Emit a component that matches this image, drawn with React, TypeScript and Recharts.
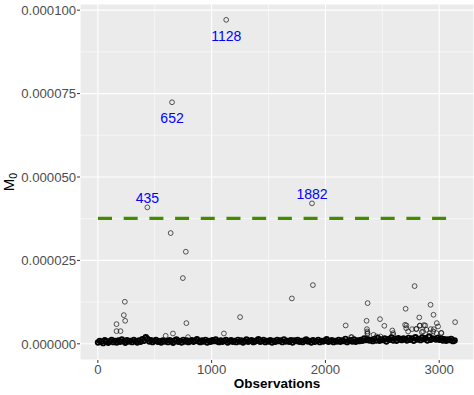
import { ScatterChart, Scatter, XAxis, YAxis, CartesianGrid, ReferenceLine } from "recharts"

// flagged observations (labelled in blue)
const flaggedObs = [435, 652, 1128, 1882]
const flaggedM0 = [4.09e-5, 7.24e-5, 9.71e-5, 4.21e-5]
const flaggedAbove = [true, false, false, true]

// other visible points off the baseline, M0 in units of 1e-6
const otherObs = [
  164, 164, 199, 228, 237, 240, 427, 596, 640, 660, 747, 773, 778, 792, 1108, 1250,
  1705, 1890, 2178, 2225, 2232, 2362, 2365, 2368, 2370, 2370, 2371, 2423, 2449, 2480,
  2484, 2518, 2588, 2595, 2595, 2700, 2705, 2710, 2712, 2727, 2762, 2784, 2798, 2800,
  2825, 2830, 2830, 2847, 2859, 2865, 2877, 2888, 2918, 2924, 2926, 2947, 2950, 2953,
  2976, 2979, 2990, 3017, 3020, 3099, 3140,
]
const otherM0 = [
  5.9, 3.8, 3.8, 8.6, 12.6, 6.9, 2.0, 2.4, 33.2, 3.1, 19.7, 27.6, 6.2, 2.0, 3.1, 8.0,
  13.6, 17.6, 5.5, 2.0, 2.0, 6.9, 4.4, 3.7, 3.0, 3.2, 12.2, 2.7, 2.2, 7.4,
  2.2, 5.4, 4.0, 3.2, 2.7, 5.7, 10.5, 4.7, 5.5, 3.7, 4.4, 17.3, 4.4, 4.5,
  7.9, 5.4, 5.5, 3.5, 3.7, 5.6, 5.5, 4.2, 3.2, 11.7, 4.4, 3.7, 8.7, 4.4,
  3.2, 6.2, 5.2, 3.3, 3.2, 1.5, 6.5,
]

// dense band near zero: every 15th observation from 1, M0 in units of 1e-7
const baselineStep = 15
const baselineM0 = [
  4, 9, 6, 2, 11, 7, 3, 8, 12, 5, 9, 4, 10, 6, 13, 8, 3, 11, 7, 9,
  5, 12, 8, 4, 10, 6, 14, 9, 20, 15, 7, 11, 5, 9, 12, 6, 8, 4, 10, 7,
  9, 5, 11, 8, 3, 10, 13, 6, 9, 4, 12, 7, 10, 5, 8, 11, 6, 9, 14, 7,
  5, 10, 7, 12, 4, 9, 6, 11, 8, 13, 7, 5, 10, 6, 9, 12, 4, 8, 11, 6,
  9, 5, 12, 7, 10, 4, 8, 13, 6, 9, 11, 5, 7, 10, 14, 6, 8, 12, 5, 9,
  7, 11, 4, 9, 6, 12, 8, 10, 5, 13, 7, 9, 6, 11, 4, 10, 8, 12, 6, 9,
  5, 10, 13, 7, 9, 4, 11, 6, 8, 12, 5, 9, 7, 10, 14, 6, 8, 11, 5, 9,
  7, 12, 6, 10, 8, 15, 5, 9, 11, 7, 13, 6, 10, 8, 12, 9, 16, 11, 14, 10,
  12, 8, 15, 10, 18, 9, 13, 11, 16, 7, 14, 12, 19, 10, 15, 9, 17, 13, 11, 16,
  14, 10, 18, 12, 16, 9, 20, 13, 15, 11, 19, 14, 17, 10, 22, 12, 16, 15, 13, 18,
  12, 16, 10, 14, 9, 13, 11, 15, 8, 10,
]

const cutoff = 3.76e-5
const cutoffFrom = 1
const cutoffTo = 3150

const xTicks = [0, 1000, 2000, 3000]
const xMinor = [500, 1500, 2500]
const yTicks = [0, 2.5e-5, 5e-5, 7.5e-5, 1e-4]
const yMinor = [1.25e-5, 3.75e-5, 6.25e-5, 8.75e-5]

const FONT = "'Liberation Sans', Arial, Helvetica, sans-serif"

const flagged = flaggedObs.map((x, i) => ({ x, y: flaggedM0[i], above: flaggedAbove[i] }))
const others = otherObs.map((x, i) => ({ x, y: otherM0[i] * 1e-6 }))
const baseline = baselineM0.map((v, i) => ({ x: 1 + i * baselineStep, y: v * 1e-7 }))

const OpenCircle = (p: any) => (
  <circle cx={p.cx} cy={p.cy} r={2.4} fill="none" stroke="#111" strokeWidth={0.7} />
)

// the band stands for thousands of overlapping rings, so its rings are drawn heavier
const BandCircle = (p: any) => (
  <circle cx={p.cx} cy={p.cy} r={2.2} fill="none" stroke="#000" strokeWidth={1.9} />
)

const FlaggedPoint = (p: any) => (
  <g>
    <circle cx={p.cx} cy={p.cy} r={2.4} fill="none" stroke="#111" strokeWidth={0.7} />
    <text
      x={p.cx}
      y={p.payload.above ? p.cy - 4 : p.cy + 21}
      textAnchor="middle"
      fill="#0000FF"
      fontSize={14}
      fontFamily={FONT}
    >
      {p.payload.x}
    </text>
  </g>
)

const YTitle = () => (
  <text transform="translate(14,182) rotate(-90)" textAnchor="middle" fontFamily={FONT} fill="#000">
    <tspan fontSize={15}>M</tspan>
    <tspan fontSize={10.5} dy={3}>0</tspan>
  </text>
)

export default function App() {
  return (
    <div style={{ position: "absolute", left: 0, top: 0, width: 474, height: 395, background: "#fff" }}>
      <ScatterChart width={474} height={395} margin={{ top: 4, right: 0, left: 0, bottom: 0 }}>
        <CartesianGrid fill="#EBEBEB" fillOpacity={1} stroke="#FFFFFF" strokeWidth={1.1} />
        {xMinor.map((v) => (
          <ReferenceLine key={"xm" + v} x={v} stroke="#FFFFFF" strokeWidth={0.55} />
        ))}
        {yMinor.map((v) => (
          <ReferenceLine key={"ym" + v} y={v} stroke="#FFFFFF" strokeWidth={0.55} />
        ))}
        <XAxis
          type="number"
          dataKey="x"
          domain={[-157, 3306]}
          allowDataOverflow
          ticks={xTicks}
          height={35}
          axisLine={false}
          tickLine={{ stroke: "#333333" }}
          tickSize={3}
          tickMargin={1.3}
          tick={{ fill: "#4D4D4D", fontSize: 13.2, fontFamily: FONT }}
          label={{ value: "Observations", position: "insideBottom", offset: 7, fill: "#000", fontWeight: "bold", fontSize: 13.5, fontFamily: FONT }}
        />
        <YAxis
          type="number"
          dataKey="y"
          domain={[-4.85e-6, 1.0185e-4]}
          allowDataOverflow
          ticks={yTicks}
          width={80}
          axisLine={false}
          tickLine={{ stroke: "#333333" }}
          tickSize={3}
          tickMargin={0.8}
          tickFormatter={(v: number) => v.toFixed(6)}
          tick={{ fill: "#4D4D4D", fontSize: 13.2, fontFamily: FONT }}
          label={<YTitle />}
        />
        <Scatter data={baseline} shape={BandCircle} isAnimationActive={false} />
        <Scatter data={others} shape={OpenCircle} isAnimationActive={false} />
        <Scatter data={flagged} shape={FlaggedPoint} isAnimationActive={false} />
        <ReferenceLine
          segment={[{ x: cutoffFrom, y: cutoff }, { x: cutoffTo, y: cutoff }]}
          stroke="#458B00"
          strokeWidth={3.3}
          strokeDasharray="14 11.7"
        />
      </ScatterChart>
    </div>
  )
}
